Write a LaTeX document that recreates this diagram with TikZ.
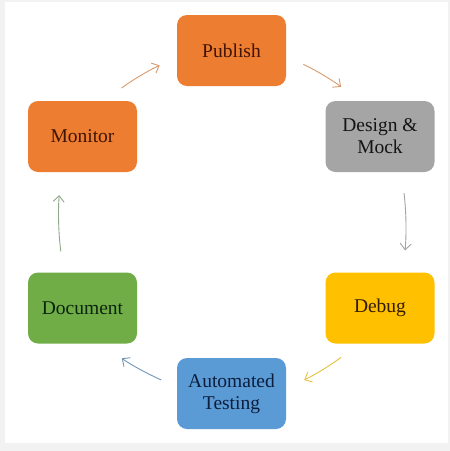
\documentclass[tikz,border=0pt]{standalone}
\usepackage{fontspec}
\setmainfont{Liberation Serif}
\usepackage{tikz}
\usetikzlibrary{arrows.meta, positioning}
\usepackage{xcolor}
\definecolor{frame}{HTML}{F2F2F2}
\definecolor{tangerine}{HTML}{ED7D31}
\definecolor{ash}{HTML}{A5A5A5}
\definecolor{amber}{HTML}{FFC000}
\definecolor{sky}{HTML}{5B9BD5}
\definecolor{leaf}{HTML}{70AD47}
\definecolor{rust}{HTML}{401405}
\definecolor{ink}{HTML}{141414}
\definecolor{umber}{HTML}{321C00}
\definecolor{midnight}{HTML}{0C1E3C}
\definecolor{forest}{HTML}{0C240C}
\definecolor{tanline}{HTML}{D89A6E}
\definecolor{greyline}{HTML}{A2A2A2}
\definecolor{goldline}{HTML}{E6C23E}
\definecolor{blueline}{HTML}{7496B8}
\definecolor{sageline}{HTML}{8FA889}

\begin{document}
\begin{tikzpicture}[x=1pt, y=-1pt,
    stage/.style={rounded corners=10pt, minimum width=109pt, minimum height=71pt,
        inner sep=0pt, align=center, font=\fontsize{19.5}{22}\selectfont},
    flow/.style={-{Straight Barb[length=6pt, width=11pt]}, line width=0.9pt, bend left=6}]
                % 0. Frame
                \useasboundingbox (0,0) rectangle (450,451);
                \fill[frame] (0,0) rectangle (450,451);
                \fill[white] (5,2) rectangle (448,443);

                % 1. Stages
                \node[stage, fill=tangerine, text=rust] (publish) at (231.5,50.5) {Publish};
                \node[stage, fill=ash, text=ink] (design) at (380,136.5) {Design \&\\Mock};
                \node[stage, fill=amber, text=umber] (debug) at (380,308) {Debug};
                \node[stage, fill=sky, text=midnight] (testing) at (231.5,393.5) {Automated\\Testing};
                \node[stage, fill=leaf, text=forest] (document) at (82.5,308) {Document};
                \node[stage, fill=tangerine, text=rust] (monitor) at (82.5,136.5) {Monitor};

                % 2. Cycle arrows
                \draw[flow, tanline, shorten <=19pt, shorten >=23pt] (publish.354) to (design.120);
                \draw[flow, greyline, shorten <=21pt, shorten >=22pt] (design.301) to (debug.57);
                \draw[flow, goldline, shorten <=22pt, shorten >=20pt] (debug.239) to (testing.5);
                \draw[flow, blueline, shorten <=17pt, shorten >=25pt] (testing.173) to (document.298);
                \draw[flow, sageline, shorten <=21pt, shorten >=23pt] (document.118) to (monitor.239);
                \draw[flow, tanline, shorten <=21pt, shorten >=19pt] (monitor.58) to (publish.187);
            \end{tikzpicture}
\end{document}
